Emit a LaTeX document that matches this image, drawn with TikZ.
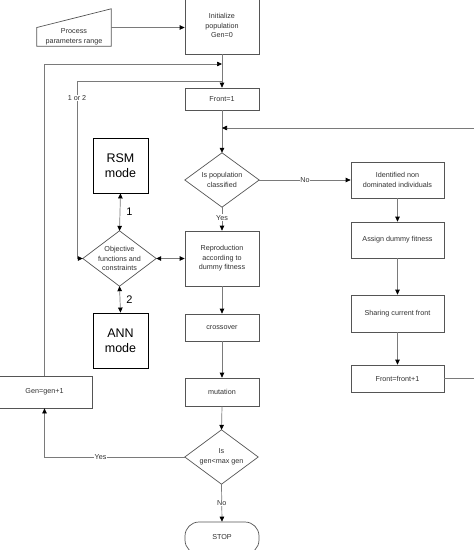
\documentclass[tikz,border=0pt]{standalone}
\usepackage{fontspec}
\setmainfont{Liberation Sans}
\usetikzlibrary{arrows.meta,calc}
\definecolor{boxc}{HTML}{555555}
\definecolor{linec}{HTML}{7A7A7A}
\definecolor{txtc}{HTML}{303030}
\begin{document}
\begin{tikzpicture}[x=1pt,y=-1pt,
  box/.style={draw=boxc,line width=0.7pt,rectangle,inner sep=1pt,align=center,text=txtc,font=\fontsize{7.2}{9.5}\selectfont},
  bigbox/.style={box,draw=black,line width=0.9pt,font=\fontsize{12.5}{15}\selectfont,text=black},
  dshape/.style={rectangle,inner sep=0pt,align=center,text=txtc,font=\fontsize{7.2}{9.5}\selectfont},
  dborder/.style={draw=boxc,line width=0.7pt},
  conn/.style={draw=linec,line width=0.7pt,-{Triangle[length=5pt,width=4.5pt,fill=black,color=black]}},
  dconn/.style={draw=linec,line width=0.7pt,{Triangle[length=5pt,width=4.5pt,fill=black,color=black]}-{Triangle[length=5pt,width=4.5pt,fill=black,color=black]}},
  plain/.style={draw=linec,line width=0.7pt},
  lbl/.style={fill=white,inner sep=0.8pt,text=txtc,font=\fontsize{7.2}{9}\selectfont},
  biglbl/.style={inner sep=0pt,text=black,font=\fontsize{11}{13}\selectfont}
]
\useasboundingbox (0,0) rectangle (474,550);

% nodes
\node[box,minimum width=74,minimum height=57] (init) at (222,25.5) {Initialize\\population\\Gen=0};
\node[rectangle,inner sep=0pt,minimum width=74,minimum height=37] (proc) at (74,27.5) {};
\draw[dborder] (proc.south west) -- (proc.south east) -- (proc.north east) -- (proc.west) -- cycle;
\node[dshape] (proctxt) at (74,37) {Process\\parameters range};

\node[box,minimum width=74,minimum height=22] (front1) at (222,99) {Front=1};

\node[dshape,minimum width=74,minimum height=54] (d1) at (222,180) {Is population\\classified};
\draw[dborder] (d1.north) -- (d1.east) -- (d1.south) -- (d1.west) -- cycle;

\node[box,minimum width=93,minimum height=36] (ident) at (397.5,180) {Identified non\\dominated individuals};
\node[box,minimum width=93,minimum height=36] (assign) at (397.5,240) {Assign dummy fitness};
\node[box,minimum width=93,minimum height=37] (share) at (397.5,313.5) {Sharing current front};
\node[box,minimum width=93,minimum height=27] (front2) at (397.5,378.5) {Front=front+1};

\node[box,minimum width=74,minimum height=55] (repro) at (222,258.5) {Reproduction\\according to\\dummy fitness};
\node[box,minimum width=74,minimum height=27] (cross) at (222,327.5) {crossover};
\node[box,minimum width=74,minimum height=28] (mut) at (222,392) {mutation};

\node[dshape,minimum width=73,minimum height=55] (obj) at (119.5,258.5) {Objective\\functions and\\constraints};
\draw[dborder] (obj.north) -- (obj.east) -- (obj.south) -- (obj.west) -- cycle;

\node[bigbox,minimum width=55,minimum height=55] (rsm) at (120.5,165.5) {RSM\\mode};
\node[bigbox,minimum width=55,minimum height=55] (ann) at (120.5,340.5) {ANN\\mode};

\node[box,minimum width=95,minimum height=32] (gen) at (44.5,392) {Gen=gen+1};

\node[dshape,minimum width=73,minimum height=54] (d2) at (221.5,457) {Is\\gen<max gen};
\draw[dborder] (d2.north) -- (d2.east) -- (d2.south) -- (d2.west) -- cycle;

\node[box,rounded corners=14pt,minimum width=74,minimum height=32] (stop) at (222,538) {\raisebox{2pt}{STOP}};

% helper coordinates
\coordinate (loopA) at (222,64);
\coordinate (loopB) at (222,81);
\coordinate (loopBL) at (77,81);
\coordinate (retR) at (222,128);
\coordinate (rtTop) at (477,128);
\coordinate (rtBot) at (477,378.5);

% connectors
\draw[conn] (proc.east) -- (proc.east -| init.west);
\draw[conn] (init.south) -- (front1.north);
\draw[conn] (gen.north) |- (loopA);
\draw[conn] (loopB) -- (loopBL) |- (obj.west);
\node[lbl] (lor) at (77,98) {1 or 2};
\draw[conn] (front1.south) -- (d1.north);
\draw[conn] (rtBot) -- (rtTop) -- (retR);
\draw[plain] (front2.east) -- (rtBot);
\draw[conn] (d1.east) -- node[lbl] (lno1) {No} (ident.west);
\draw[conn] (d1.south) -- node[lbl,pos=0.45] (lyes1) {Yes} (repro.north);
\draw[conn] (ident.south) -- (assign.north);
\draw[conn] (assign.south) -- (share.north);
\draw[conn] (share.south) -- (front2.north);
\draw[dconn] (rsm.south) -- node[biglbl,right=6pt] (l1) {1} (obj.north);
\draw[dconn] (obj.south) -- node[biglbl,right=6pt] (l2) {2} (ann.north);
\draw[dconn] (obj.east) -- (repro.west);
\draw[conn] (repro.south) -- (cross.north);
\draw[conn] (cross.south) -- (mut.north);
\draw[conn] (mut.south) -- (d2.north);
\draw[conn] (d2.west) -| node[lbl,pos=0.3] (lyes2) {Yes} (gen.south);
\draw[conn] (d2.south) -- node[lbl,pos=0.5] (lno2) {No} (stop.north);
\end{tikzpicture}
\end{document}
